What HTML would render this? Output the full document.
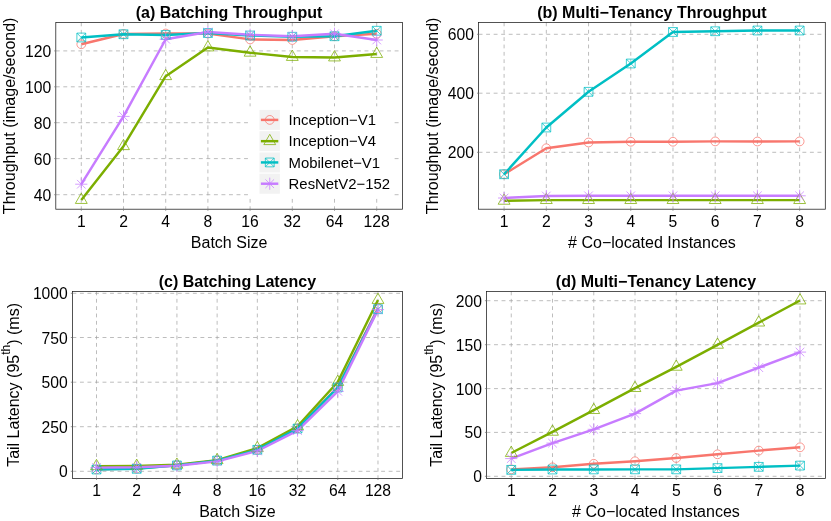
<!DOCTYPE html>
<html><head><meta charset="utf-8"><title>chart</title><style>html,body{margin:0;padding:0;background:#fff}svg{display:block}</style></head><body>
<svg width="831" height="521" viewBox="0 0 831 521" font-family='"Liberation Sans", sans-serif' fill="#000">
<rect width="831" height="521" fill="#fff"/>
<rect x="55.8" y="22.5" width="346.59999999999997" height="186.7" fill="#fff"/>
<path d="M55.8 194.70H402.4 M55.8 158.60H402.4 M55.8 122.70H402.4 M55.8 86.80H402.4 M55.8 50.90H402.4" fill="none" stroke="#a0a0a0" stroke-width="0.7" stroke-dasharray="3.9 3.63"/>
<path d="M81.30 22.5V209.2 M123.50 22.5V209.2 M165.70 22.5V209.2 M207.90 22.5V209.2 M250.10 22.5V209.2 M292.30 22.5V209.2 M334.50 22.5V209.2 M376.70 22.5V209.2" fill="none" stroke="#a0a0a0" stroke-width="0.7" stroke-dasharray="3.8 3.55"/>
<polyline points="81.30,44.25 123.50,34.00 165.70,33.50 207.90,33.50 250.10,39.40 292.30,40.00 334.50,36.25 376.70,33.75" fill="none" stroke="#F8766D" stroke-width="2.45" stroke-linejoin="round"/>
<polyline points="81.30,200.00 123.50,146.20 165.70,76.20 207.90,47.50 250.10,52.75 292.30,57.00 334.50,57.50 376.70,54.00" fill="none" stroke="#7CAE00" stroke-width="2.45" stroke-linejoin="round"/>
<polyline points="81.30,37.50 123.50,34.25 165.70,35.00 207.90,33.00 250.10,35.50 292.30,36.75 334.50,36.25 376.70,30.75" fill="none" stroke="#00BFC4" stroke-width="2.45" stroke-linejoin="round"/>
<polyline points="81.30,184.20 123.50,116.40 165.70,39.25 207.90,32.00 250.10,34.75 292.30,36.25 334.50,33.75 376.70,40.00" fill="none" stroke="#C77CFF" stroke-width="2.45" stroke-linejoin="round"/>
<circle cx="81.30" cy="44.25" r="4.40" fill="none" stroke="#F8766D" stroke-width="0.75"/>
<circle cx="123.50" cy="34.00" r="4.40" fill="none" stroke="#F8766D" stroke-width="0.75"/>
<circle cx="165.70" cy="33.50" r="4.40" fill="none" stroke="#F8766D" stroke-width="0.75"/>
<circle cx="207.90" cy="33.50" r="4.40" fill="none" stroke="#F8766D" stroke-width="0.75"/>
<circle cx="250.10" cy="39.40" r="4.40" fill="none" stroke="#F8766D" stroke-width="0.75"/>
<circle cx="292.30" cy="40.00" r="4.40" fill="none" stroke="#F8766D" stroke-width="0.75"/>
<circle cx="334.50" cy="36.25" r="4.40" fill="none" stroke="#F8766D" stroke-width="0.75"/>
<circle cx="376.70" cy="33.75" r="4.40" fill="none" stroke="#F8766D" stroke-width="0.75"/>
<path d="M81.30 193.15L75.37 203.43L87.23 203.43Z" fill="none" stroke="#7CAE00" stroke-width="0.75"/>
<path d="M123.50 139.35L117.57 149.62L129.43 149.62Z" fill="none" stroke="#7CAE00" stroke-width="0.75"/>
<path d="M165.70 69.35L159.77 79.62L171.63 79.62Z" fill="none" stroke="#7CAE00" stroke-width="0.75"/>
<path d="M207.90 40.65L201.97 50.92L213.83 50.92Z" fill="none" stroke="#7CAE00" stroke-width="0.75"/>
<path d="M250.10 45.90L244.17 56.17L256.03 56.17Z" fill="none" stroke="#7CAE00" stroke-width="0.75"/>
<path d="M292.30 50.15L286.37 60.42L298.23 60.42Z" fill="none" stroke="#7CAE00" stroke-width="0.75"/>
<path d="M334.50 50.65L328.57 60.92L340.43 60.92Z" fill="none" stroke="#7CAE00" stroke-width="0.75"/>
<path d="M376.70 47.15L370.77 57.42L382.63 57.42Z" fill="none" stroke="#7CAE00" stroke-width="0.75"/>
<path d="M76.90 33.10H85.70V41.90H76.90Z M76.90 33.10L85.70 41.90 M76.90 41.90L85.70 33.10" fill="none" stroke="#00BFC4" stroke-width="0.75"/>
<path d="M119.10 29.85H127.90V38.65H119.10Z M119.10 29.85L127.90 38.65 M119.10 38.65L127.90 29.85" fill="none" stroke="#00BFC4" stroke-width="0.75"/>
<path d="M161.30 30.60H170.10V39.40H161.30Z M161.30 30.60L170.10 39.40 M161.30 39.40L170.10 30.60" fill="none" stroke="#00BFC4" stroke-width="0.75"/>
<path d="M203.50 28.60H212.30V37.40H203.50Z M203.50 28.60L212.30 37.40 M203.50 37.40L212.30 28.60" fill="none" stroke="#00BFC4" stroke-width="0.75"/>
<path d="M245.70 31.10H254.50V39.90H245.70Z M245.70 31.10L254.50 39.90 M245.70 39.90L254.50 31.10" fill="none" stroke="#00BFC4" stroke-width="0.75"/>
<path d="M287.90 32.35H296.70V41.15H287.90Z M287.90 32.35L296.70 41.15 M287.90 41.15L296.70 32.35" fill="none" stroke="#00BFC4" stroke-width="0.75"/>
<path d="M330.10 31.85H338.90V40.65H330.10Z M330.10 31.85L338.90 40.65 M330.10 40.65L338.90 31.85" fill="none" stroke="#00BFC4" stroke-width="0.75"/>
<path d="M372.30 26.35H381.10V35.15H372.30Z M372.30 26.35L381.10 35.15 M372.30 35.15L381.10 26.35" fill="none" stroke="#00BFC4" stroke-width="0.75"/>
<path d="M75.20 184.20H87.40 M81.30 178.10V190.30 M77.00 179.90L85.60 188.50 M77.00 188.50L85.60 179.90" fill="none" stroke="#C77CFF" stroke-width="0.75"/>
<path d="M117.40 116.40H129.60 M123.50 110.30V122.50 M119.20 112.10L127.80 120.70 M119.20 120.70L127.80 112.10" fill="none" stroke="#C77CFF" stroke-width="0.75"/>
<path d="M159.60 39.25H171.80 M165.70 33.15V45.35 M161.40 34.95L170.00 43.55 M161.40 43.55L170.00 34.95" fill="none" stroke="#C77CFF" stroke-width="0.75"/>
<path d="M201.80 32.00H214.00 M207.90 25.90V38.10 M203.60 27.70L212.20 36.30 M203.60 36.30L212.20 27.70" fill="none" stroke="#C77CFF" stroke-width="0.75"/>
<path d="M244.00 34.75H256.20 M250.10 28.65V40.85 M245.80 30.45L254.40 39.05 M245.80 39.05L254.40 30.45" fill="none" stroke="#C77CFF" stroke-width="0.75"/>
<path d="M286.20 36.25H298.40 M292.30 30.15V42.35 M288.00 31.95L296.60 40.55 M288.00 40.55L296.60 31.95" fill="none" stroke="#C77CFF" stroke-width="0.75"/>
<path d="M328.40 33.75H340.60 M334.50 27.65V39.85 M330.20 29.45L338.80 38.05 M330.20 38.05L338.80 29.45" fill="none" stroke="#C77CFF" stroke-width="0.75"/>
<path d="M370.60 40.00H382.80 M376.70 33.90V46.10 M372.40 35.70L381.00 44.30 M372.40 44.30L381.00 35.70" fill="none" stroke="#C77CFF" stroke-width="0.75"/>
<rect x="249" y="106.3" width="142.6" height="92" fill="#fff"/>
<rect x="259.5" y="109.90" width="20.4" height="20" fill="#f2f2f2"/>
<path d="M260.9 119.90H278.3" stroke="#F8766D" stroke-width="2.45" fill="none"/>
<circle cx="269.75" cy="119.90" r="4.40" fill="none" stroke="#F8766D" stroke-width="0.75"/>
<text x="288.6" y="125.10" font-size="14.9">Inception−V1</text>
<rect x="259.5" y="131.17" width="20.4" height="20" fill="#f2f2f2"/>
<path d="M260.9 141.17H278.3" stroke="#7CAE00" stroke-width="2.45" fill="none"/>
<path d="M269.75 134.32L263.82 144.60L275.68 144.60Z" fill="none" stroke="#7CAE00" stroke-width="0.75"/>
<text x="288.6" y="146.37" font-size="14.9">Inception−V4</text>
<rect x="259.5" y="152.44" width="20.4" height="20" fill="#f2f2f2"/>
<path d="M260.9 162.44H278.3" stroke="#00BFC4" stroke-width="2.45" fill="none"/>
<path d="M265.35 158.04H274.15V166.84H265.35Z M265.35 158.04L274.15 166.84 M265.35 166.84L274.15 158.04" fill="none" stroke="#00BFC4" stroke-width="0.75"/>
<text x="288.6" y="167.64" font-size="14.9">Mobilenet−V1</text>
<rect x="259.5" y="173.71" width="20.4" height="20" fill="#f2f2f2"/>
<path d="M260.9 183.71H278.3" stroke="#C77CFF" stroke-width="2.45" fill="none"/>
<path d="M263.65 183.71H275.85 M269.75 177.61V189.81 M265.45 179.41L274.05 188.01 M265.45 188.01L274.05 179.41" fill="none" stroke="#C77CFF" stroke-width="0.75"/>
<text x="288.6" y="188.91" font-size="14.9">ResNetV2−152</text>
<rect x="55.8" y="22.5" width="346.59999999999997" height="186.7" fill="none" stroke="#1a1a1a" stroke-width="0.75"/>
<path d="M54.199999999999996 194.70H55.8 M54.199999999999996 158.60H55.8 M54.199999999999996 122.70H55.8 M54.199999999999996 86.80H55.8 M54.199999999999996 50.90H55.8 M81.30 209.2V210.79999999999998 M123.50 209.2V210.79999999999998 M165.70 209.2V210.79999999999998 M207.90 209.2V210.79999999999998 M250.10 209.2V210.79999999999998 M292.30 209.2V210.79999999999998 M334.50 209.2V210.79999999999998 M376.70 209.2V210.79999999999998" fill="none" stroke="#7f7f7f" stroke-width="0.8"/>
<text x="51.20" y="200.70" text-anchor="end" font-size="15.7">40</text>
<text x="51.20" y="164.60" text-anchor="end" font-size="15.7">60</text>
<text x="51.20" y="128.70" text-anchor="end" font-size="15.7">80</text>
<text x="51.20" y="92.80" text-anchor="end" font-size="15.7">100</text>
<text x="51.20" y="56.90" text-anchor="end" font-size="15.7">120</text>
<text x="81.30" y="226.80" text-anchor="middle" font-size="15.7">1</text>
<text x="123.50" y="226.80" text-anchor="middle" font-size="15.7">2</text>
<text x="165.70" y="226.80" text-anchor="middle" font-size="15.7">4</text>
<text x="207.90" y="226.80" text-anchor="middle" font-size="15.7">8</text>
<text x="250.10" y="226.80" text-anchor="middle" font-size="15.7">16</text>
<text x="292.30" y="226.80" text-anchor="middle" font-size="15.7">32</text>
<text x="334.50" y="226.80" text-anchor="middle" font-size="15.7">64</text>
<text x="376.70" y="226.80" text-anchor="middle" font-size="15.7">128</text>
<text x="229.10" y="17.90" text-anchor="middle" font-size="16" font-weight="bold">(a) Batching Throughput</text>
<text x="229.10" y="248.20" text-anchor="middle" font-size="16">Batch Size</text>
<text transform="translate(15 115.85) rotate(-90)" text-anchor="middle" font-size="16">Throughput (image/second)</text>
<rect x="478.6" y="22.5" width="346.69999999999993" height="186.7" fill="#fff"/>
<path d="M478.6 152.30H825.3 M478.6 93.20H825.3 M478.6 34.30H825.3" fill="none" stroke="#a0a0a0" stroke-width="0.7" stroke-dasharray="3.9 3.63"/>
<path d="M504.10 22.5V209.2 M546.32 22.5V209.2 M588.54 22.5V209.2 M630.76 22.5V209.2 M672.98 22.5V209.2 M715.20 22.5V209.2 M757.42 22.5V209.2 M799.64 22.5V209.2" fill="none" stroke="#a0a0a0" stroke-width="0.7" stroke-dasharray="3.8 3.55"/>
<polyline points="504.10,174.25 546.32,148.25 588.54,142.50 630.76,141.75 672.98,141.75 715.20,141.40 757.42,141.50 799.64,141.40" fill="none" stroke="#F8766D" stroke-width="2.45" stroke-linejoin="round"/>
<polyline points="504.10,200.80 546.32,200.10 588.54,200.10 630.76,200.10 672.98,200.10 715.20,200.10 757.42,200.10 799.64,200.10" fill="none" stroke="#7CAE00" stroke-width="2.45" stroke-linejoin="round"/>
<polyline points="504.10,174.25 546.32,127.50 588.54,91.80 630.76,63.50 672.98,32.00 715.20,31.25 757.42,30.50 799.64,30.50" fill="none" stroke="#00BFC4" stroke-width="2.45" stroke-linejoin="round"/>
<polyline points="504.10,198.00 546.32,196.00 588.54,195.80 630.76,195.80 672.98,195.80 715.20,195.80 757.42,195.80 799.64,195.80" fill="none" stroke="#C77CFF" stroke-width="2.45" stroke-linejoin="round"/>
<circle cx="504.10" cy="174.25" r="4.40" fill="none" stroke="#F8766D" stroke-width="0.75"/>
<circle cx="546.32" cy="148.25" r="4.40" fill="none" stroke="#F8766D" stroke-width="0.75"/>
<circle cx="588.54" cy="142.50" r="4.40" fill="none" stroke="#F8766D" stroke-width="0.75"/>
<circle cx="630.76" cy="141.75" r="4.40" fill="none" stroke="#F8766D" stroke-width="0.75"/>
<circle cx="672.98" cy="141.75" r="4.40" fill="none" stroke="#F8766D" stroke-width="0.75"/>
<circle cx="715.20" cy="141.40" r="4.40" fill="none" stroke="#F8766D" stroke-width="0.75"/>
<circle cx="757.42" cy="141.50" r="4.40" fill="none" stroke="#F8766D" stroke-width="0.75"/>
<circle cx="799.64" cy="141.40" r="4.40" fill="none" stroke="#F8766D" stroke-width="0.75"/>
<path d="M504.10 193.95L498.17 204.23L510.03 204.23Z" fill="none" stroke="#7CAE00" stroke-width="0.75"/>
<path d="M546.32 193.25L540.39 203.53L552.25 203.53Z" fill="none" stroke="#7CAE00" stroke-width="0.75"/>
<path d="M588.54 193.25L582.61 203.53L594.47 203.53Z" fill="none" stroke="#7CAE00" stroke-width="0.75"/>
<path d="M630.76 193.25L624.83 203.53L636.69 203.53Z" fill="none" stroke="#7CAE00" stroke-width="0.75"/>
<path d="M672.98 193.25L667.05 203.53L678.91 203.53Z" fill="none" stroke="#7CAE00" stroke-width="0.75"/>
<path d="M715.20 193.25L709.27 203.53L721.13 203.53Z" fill="none" stroke="#7CAE00" stroke-width="0.75"/>
<path d="M757.42 193.25L751.49 203.53L763.35 203.53Z" fill="none" stroke="#7CAE00" stroke-width="0.75"/>
<path d="M799.64 193.25L793.71 203.53L805.57 203.53Z" fill="none" stroke="#7CAE00" stroke-width="0.75"/>
<path d="M499.70 169.85H508.50V178.65H499.70Z M499.70 169.85L508.50 178.65 M499.70 178.65L508.50 169.85" fill="none" stroke="#00BFC4" stroke-width="0.75"/>
<path d="M541.92 123.10H550.72V131.90H541.92Z M541.92 123.10L550.72 131.90 M541.92 131.90L550.72 123.10" fill="none" stroke="#00BFC4" stroke-width="0.75"/>
<path d="M584.14 87.40H592.94V96.20H584.14Z M584.14 87.40L592.94 96.20 M584.14 96.20L592.94 87.40" fill="none" stroke="#00BFC4" stroke-width="0.75"/>
<path d="M626.36 59.10H635.16V67.90H626.36Z M626.36 59.10L635.16 67.90 M626.36 67.90L635.16 59.10" fill="none" stroke="#00BFC4" stroke-width="0.75"/>
<path d="M668.58 27.60H677.38V36.40H668.58Z M668.58 27.60L677.38 36.40 M668.58 36.40L677.38 27.60" fill="none" stroke="#00BFC4" stroke-width="0.75"/>
<path d="M710.80 26.85H719.60V35.65H710.80Z M710.80 26.85L719.60 35.65 M710.80 35.65L719.60 26.85" fill="none" stroke="#00BFC4" stroke-width="0.75"/>
<path d="M753.02 26.10H761.82V34.90H753.02Z M753.02 26.10L761.82 34.90 M753.02 34.90L761.82 26.10" fill="none" stroke="#00BFC4" stroke-width="0.75"/>
<path d="M795.24 26.10H804.04V34.90H795.24Z M795.24 26.10L804.04 34.90 M795.24 34.90L804.04 26.10" fill="none" stroke="#00BFC4" stroke-width="0.75"/>
<path d="M498.00 198.00H510.20 M504.10 191.90V204.10 M499.80 193.70L508.40 202.30 M499.80 202.30L508.40 193.70" fill="none" stroke="#C77CFF" stroke-width="0.75"/>
<path d="M540.22 196.00H552.42 M546.32 189.90V202.10 M542.02 191.70L550.62 200.30 M542.02 200.30L550.62 191.70" fill="none" stroke="#C77CFF" stroke-width="0.75"/>
<path d="M582.44 195.80H594.64 M588.54 189.70V201.90 M584.24 191.50L592.84 200.10 M584.24 200.10L592.84 191.50" fill="none" stroke="#C77CFF" stroke-width="0.75"/>
<path d="M624.66 195.80H636.86 M630.76 189.70V201.90 M626.46 191.50L635.06 200.10 M626.46 200.10L635.06 191.50" fill="none" stroke="#C77CFF" stroke-width="0.75"/>
<path d="M666.88 195.80H679.08 M672.98 189.70V201.90 M668.68 191.50L677.28 200.10 M668.68 200.10L677.28 191.50" fill="none" stroke="#C77CFF" stroke-width="0.75"/>
<path d="M709.10 195.80H721.30 M715.20 189.70V201.90 M710.90 191.50L719.50 200.10 M710.90 200.10L719.50 191.50" fill="none" stroke="#C77CFF" stroke-width="0.75"/>
<path d="M751.32 195.80H763.52 M757.42 189.70V201.90 M753.12 191.50L761.72 200.10 M753.12 200.10L761.72 191.50" fill="none" stroke="#C77CFF" stroke-width="0.75"/>
<path d="M793.54 195.80H805.74 M799.64 189.70V201.90 M795.34 191.50L803.94 200.10 M795.34 200.10L803.94 191.50" fill="none" stroke="#C77CFF" stroke-width="0.75"/>
<rect x="478.6" y="22.5" width="346.69999999999993" height="186.7" fill="none" stroke="#1a1a1a" stroke-width="0.75"/>
<path d="M477.0 152.30H478.6 M477.0 93.20H478.6 M477.0 34.30H478.6 M504.10 209.2V210.79999999999998 M546.32 209.2V210.79999999999998 M588.54 209.2V210.79999999999998 M630.76 209.2V210.79999999999998 M672.98 209.2V210.79999999999998 M715.20 209.2V210.79999999999998 M757.42 209.2V210.79999999999998 M799.64 209.2V210.79999999999998" fill="none" stroke="#7f7f7f" stroke-width="0.8"/>
<text x="474.00" y="158.30" text-anchor="end" font-size="15.7">200</text>
<text x="474.00" y="99.20" text-anchor="end" font-size="15.7">400</text>
<text x="474.00" y="40.30" text-anchor="end" font-size="15.7">600</text>
<text x="504.10" y="226.80" text-anchor="middle" font-size="15.7">1</text>
<text x="546.32" y="226.80" text-anchor="middle" font-size="15.7">2</text>
<text x="588.54" y="226.80" text-anchor="middle" font-size="15.7">3</text>
<text x="630.76" y="226.80" text-anchor="middle" font-size="15.7">4</text>
<text x="672.98" y="226.80" text-anchor="middle" font-size="15.7">5</text>
<text x="715.20" y="226.80" text-anchor="middle" font-size="15.7">6</text>
<text x="757.42" y="226.80" text-anchor="middle" font-size="15.7">7</text>
<text x="799.64" y="226.80" text-anchor="middle" font-size="15.7">8</text>
<text x="651.95" y="17.90" text-anchor="middle" font-size="16" font-weight="bold">(b) Multi−Tenancy Throughput</text>
<text x="651.95" y="248.20" text-anchor="middle" font-size="16"># Co−located Instances</text>
<text transform="translate(437.6 115.85) rotate(-90)" text-anchor="middle" font-size="16">Throughput (image/second)</text>
<rect x="72.4" y="291.5" width="330.0" height="186.89999999999998" fill="#fff"/>
<path d="M72.4 471.30H402.4 M72.4 426.70H402.4 M72.4 382.20H402.4 M72.4 337.50H402.4 M72.4 293.30H402.4" fill="none" stroke="#a0a0a0" stroke-width="0.7" stroke-dasharray="3.9 3.63"/>
<path d="M96.50 291.5V478.4 M136.71 291.5V478.4 M176.92 291.5V478.4 M217.13 291.5V478.4 M257.34 291.5V478.4 M297.55 291.5V478.4 M337.76 291.5V478.4 M377.97 291.5V478.4" fill="none" stroke="#a0a0a0" stroke-width="0.7" stroke-dasharray="3.8 3.55"/>
<polyline points="96.50,469.40 136.71,468.60 176.92,465.20 217.13,460.60 257.34,449.80 297.55,428.30 337.76,387.00 377.97,308.20" fill="none" stroke="#F8766D" stroke-width="2.45" stroke-linejoin="round"/>
<polyline points="96.50,466.20 136.71,465.90 176.92,464.80 217.13,460.20 257.34,448.20 297.55,426.30 337.76,382.00 377.97,300.00" fill="none" stroke="#7CAE00" stroke-width="2.45" stroke-linejoin="round"/>
<polyline points="96.50,469.50 136.71,468.80 176.92,465.40 217.13,460.60 257.34,449.80 297.55,428.60 337.76,387.50 377.97,309.20" fill="none" stroke="#00BFC4" stroke-width="2.45" stroke-linejoin="round"/>
<polyline points="96.50,467.60 136.71,467.30 176.92,465.70 217.13,461.40 257.34,451.00 297.55,430.60 337.76,391.30 377.97,309.60" fill="none" stroke="#C77CFF" stroke-width="2.45" stroke-linejoin="round"/>
<circle cx="96.50" cy="469.40" r="4.40" fill="none" stroke="#F8766D" stroke-width="0.75"/>
<circle cx="136.71" cy="468.60" r="4.40" fill="none" stroke="#F8766D" stroke-width="0.75"/>
<circle cx="176.92" cy="465.20" r="4.40" fill="none" stroke="#F8766D" stroke-width="0.75"/>
<circle cx="217.13" cy="460.60" r="4.40" fill="none" stroke="#F8766D" stroke-width="0.75"/>
<circle cx="257.34" cy="449.80" r="4.40" fill="none" stroke="#F8766D" stroke-width="0.75"/>
<circle cx="297.55" cy="428.30" r="4.40" fill="none" stroke="#F8766D" stroke-width="0.75"/>
<circle cx="337.76" cy="387.00" r="4.40" fill="none" stroke="#F8766D" stroke-width="0.75"/>
<circle cx="377.97" cy="308.20" r="4.40" fill="none" stroke="#F8766D" stroke-width="0.75"/>
<path d="M96.50 459.35L90.57 469.62L102.43 469.62Z" fill="none" stroke="#7CAE00" stroke-width="0.75"/>
<path d="M136.71 459.05L130.78 469.32L142.64 469.32Z" fill="none" stroke="#7CAE00" stroke-width="0.75"/>
<path d="M176.92 457.95L170.99 468.23L182.85 468.23Z" fill="none" stroke="#7CAE00" stroke-width="0.75"/>
<path d="M217.13 453.35L211.20 463.62L223.06 463.62Z" fill="none" stroke="#7CAE00" stroke-width="0.75"/>
<path d="M257.34 441.35L251.41 451.62L263.27 451.62Z" fill="none" stroke="#7CAE00" stroke-width="0.75"/>
<path d="M297.55 419.45L291.62 429.73L303.48 429.73Z" fill="none" stroke="#7CAE00" stroke-width="0.75"/>
<path d="M337.76 375.15L331.83 385.43L343.69 385.43Z" fill="none" stroke="#7CAE00" stroke-width="0.75"/>
<path d="M377.97 293.15L372.04 303.43L383.90 303.43Z" fill="none" stroke="#7CAE00" stroke-width="0.75"/>
<path d="M92.10 465.10H100.90V473.90H92.10Z M92.10 465.10L100.90 473.90 M92.10 473.90L100.90 465.10" fill="none" stroke="#00BFC4" stroke-width="0.75"/>
<path d="M132.31 464.40H141.11V473.20H132.31Z M132.31 464.40L141.11 473.20 M132.31 473.20L141.11 464.40" fill="none" stroke="#00BFC4" stroke-width="0.75"/>
<path d="M172.52 461.00H181.32V469.80H172.52Z M172.52 461.00L181.32 469.80 M172.52 469.80L181.32 461.00" fill="none" stroke="#00BFC4" stroke-width="0.75"/>
<path d="M212.73 456.20H221.53V465.00H212.73Z M212.73 456.20L221.53 465.00 M212.73 465.00L221.53 456.20" fill="none" stroke="#00BFC4" stroke-width="0.75"/>
<path d="M252.94 445.40H261.74V454.20H252.94Z M252.94 445.40L261.74 454.20 M252.94 454.20L261.74 445.40" fill="none" stroke="#00BFC4" stroke-width="0.75"/>
<path d="M293.15 424.20H301.95V433.00H293.15Z M293.15 424.20L301.95 433.00 M293.15 433.00L301.95 424.20" fill="none" stroke="#00BFC4" stroke-width="0.75"/>
<path d="M333.36 383.10H342.16V391.90H333.36Z M333.36 383.10L342.16 391.90 M333.36 391.90L342.16 383.10" fill="none" stroke="#00BFC4" stroke-width="0.75"/>
<path d="M373.57 304.80H382.37V313.60H373.57Z M373.57 304.80L382.37 313.60 M373.57 313.60L382.37 304.80" fill="none" stroke="#00BFC4" stroke-width="0.75"/>
<path d="M90.40 467.60H102.60 M96.50 461.50V473.70 M92.20 463.30L100.80 471.90 M92.20 471.90L100.80 463.30" fill="none" stroke="#C77CFF" stroke-width="0.75"/>
<path d="M130.61 467.30H142.81 M136.71 461.20V473.40 M132.41 463.00L141.01 471.60 M132.41 471.60L141.01 463.00" fill="none" stroke="#C77CFF" stroke-width="0.75"/>
<path d="M170.82 465.70H183.02 M176.92 459.60V471.80 M172.62 461.40L181.22 470.00 M172.62 470.00L181.22 461.40" fill="none" stroke="#C77CFF" stroke-width="0.75"/>
<path d="M211.03 461.40H223.23 M217.13 455.30V467.50 M212.83 457.10L221.43 465.70 M212.83 465.70L221.43 457.10" fill="none" stroke="#C77CFF" stroke-width="0.75"/>
<path d="M251.24 451.00H263.44 M257.34 444.90V457.10 M253.04 446.70L261.64 455.30 M253.04 455.30L261.64 446.70" fill="none" stroke="#C77CFF" stroke-width="0.75"/>
<path d="M291.45 430.60H303.65 M297.55 424.50V436.70 M293.25 426.30L301.85 434.90 M293.25 434.90L301.85 426.30" fill="none" stroke="#C77CFF" stroke-width="0.75"/>
<path d="M331.66 391.30H343.86 M337.76 385.20V397.40 M333.46 387.00L342.06 395.60 M333.46 395.60L342.06 387.00" fill="none" stroke="#C77CFF" stroke-width="0.75"/>
<path d="M371.87 309.60H384.07 M377.97 303.50V315.70 M373.67 305.30L382.27 313.90 M373.67 313.90L382.27 305.30" fill="none" stroke="#C77CFF" stroke-width="0.75"/>
<rect x="72.4" y="291.5" width="330.0" height="186.89999999999998" fill="none" stroke="#1a1a1a" stroke-width="0.75"/>
<path d="M70.80000000000001 471.30H72.4 M70.80000000000001 426.70H72.4 M70.80000000000001 382.20H72.4 M70.80000000000001 337.50H72.4 M70.80000000000001 293.30H72.4 M96.50 478.4V480.0 M136.71 478.4V480.0 M176.92 478.4V480.0 M217.13 478.4V480.0 M257.34 478.4V480.0 M297.55 478.4V480.0 M337.76 478.4V480.0 M377.97 478.4V480.0" fill="none" stroke="#7f7f7f" stroke-width="0.8"/>
<text x="67.80" y="477.30" text-anchor="end" font-size="15.7">0</text>
<text x="67.80" y="432.70" text-anchor="end" font-size="15.7">250</text>
<text x="67.80" y="388.20" text-anchor="end" font-size="15.7">500</text>
<text x="67.80" y="343.50" text-anchor="end" font-size="15.7">750</text>
<text x="67.80" y="299.30" text-anchor="end" font-size="15.7">1000</text>
<text x="96.50" y="496.00" text-anchor="middle" font-size="15.7">1</text>
<text x="136.71" y="496.00" text-anchor="middle" font-size="15.7">2</text>
<text x="176.92" y="496.00" text-anchor="middle" font-size="15.7">4</text>
<text x="217.13" y="496.00" text-anchor="middle" font-size="15.7">8</text>
<text x="257.34" y="496.00" text-anchor="middle" font-size="15.7">16</text>
<text x="297.55" y="496.00" text-anchor="middle" font-size="15.7">32</text>
<text x="337.76" y="496.00" text-anchor="middle" font-size="15.7">64</text>
<text x="377.97" y="496.00" text-anchor="middle" font-size="15.7">128</text>
<text x="237.40" y="286.90" text-anchor="middle" font-size="16" font-weight="bold">(c) Batching Latency</text>
<text x="237.40" y="517.40" text-anchor="middle" font-size="16">Batch Size</text>
<text transform="translate(18.8 384.95) rotate(-90)" text-anchor="middle" font-size="16">Tail Latency (95<tspan font-size="12" dy="-8.6">th</tspan><tspan dy="8.6">) (ms)</tspan></text>
<rect x="486.5" y="291.5" width="338.9" height="186.89999999999998" fill="#fff"/>
<path d="M486.5 476.30H825.4 M486.5 432.40H825.4 M486.5 388.60H825.4 M486.5 344.70H825.4 M486.5 300.70H825.4" fill="none" stroke="#a0a0a0" stroke-width="0.7" stroke-dasharray="3.9 3.63"/>
<path d="M511.25 291.5V478.4 M552.50 291.5V478.4 M593.75 291.5V478.4 M635.00 291.5V478.4 M676.25 291.5V478.4 M717.50 291.5V478.4 M758.75 291.5V478.4 M800.00 291.5V478.4" fill="none" stroke="#a0a0a0" stroke-width="0.7" stroke-dasharray="3.8 3.55"/>
<polyline points="511.25,469.40 552.50,467.30 593.75,463.80 635.00,461.30 676.25,458.00 717.50,454.30 758.75,450.60 800.00,447.30" fill="none" stroke="#F8766D" stroke-width="2.45" stroke-linejoin="round"/>
<polyline points="511.25,453.00 552.50,431.80 593.75,410.10 635.00,388.10 676.25,366.80 717.50,344.80 758.75,322.60 800.00,300.50" fill="none" stroke="#7CAE00" stroke-width="2.45" stroke-linejoin="round"/>
<polyline points="511.25,469.85 552.50,469.50 593.75,469.40 635.00,469.35 676.25,469.35 717.50,468.10 758.75,466.85 800.00,465.60" fill="none" stroke="#00BFC4" stroke-width="2.45" stroke-linejoin="round"/>
<polyline points="511.25,458.60 552.50,443.10 593.75,429.30 635.00,413.60 676.25,390.60 717.50,383.10 758.75,367.60 800.00,352.10" fill="none" stroke="#C77CFF" stroke-width="2.45" stroke-linejoin="round"/>
<circle cx="511.25" cy="469.40" r="4.40" fill="none" stroke="#F8766D" stroke-width="0.75"/>
<circle cx="552.50" cy="467.30" r="4.40" fill="none" stroke="#F8766D" stroke-width="0.75"/>
<circle cx="593.75" cy="463.80" r="4.40" fill="none" stroke="#F8766D" stroke-width="0.75"/>
<circle cx="635.00" cy="461.30" r="4.40" fill="none" stroke="#F8766D" stroke-width="0.75"/>
<circle cx="676.25" cy="458.00" r="4.40" fill="none" stroke="#F8766D" stroke-width="0.75"/>
<circle cx="717.50" cy="454.30" r="4.40" fill="none" stroke="#F8766D" stroke-width="0.75"/>
<circle cx="758.75" cy="450.60" r="4.40" fill="none" stroke="#F8766D" stroke-width="0.75"/>
<circle cx="800.00" cy="447.30" r="4.40" fill="none" stroke="#F8766D" stroke-width="0.75"/>
<path d="M511.25 446.15L505.32 456.43L517.18 456.43Z" fill="none" stroke="#7CAE00" stroke-width="0.75"/>
<path d="M552.50 424.95L546.57 435.23L558.43 435.23Z" fill="none" stroke="#7CAE00" stroke-width="0.75"/>
<path d="M593.75 403.25L587.82 413.53L599.68 413.53Z" fill="none" stroke="#7CAE00" stroke-width="0.75"/>
<path d="M635.00 381.25L629.07 391.53L640.93 391.53Z" fill="none" stroke="#7CAE00" stroke-width="0.75"/>
<path d="M676.25 359.95L670.32 370.23L682.18 370.23Z" fill="none" stroke="#7CAE00" stroke-width="0.75"/>
<path d="M717.50 337.95L711.57 348.23L723.43 348.23Z" fill="none" stroke="#7CAE00" stroke-width="0.75"/>
<path d="M758.75 315.75L752.82 326.03L764.68 326.03Z" fill="none" stroke="#7CAE00" stroke-width="0.75"/>
<path d="M800.00 293.65L794.07 303.93L805.93 303.93Z" fill="none" stroke="#7CAE00" stroke-width="0.75"/>
<path d="M506.85 465.45H515.65V474.25H506.85Z M506.85 465.45L515.65 474.25 M506.85 474.25L515.65 465.45" fill="none" stroke="#00BFC4" stroke-width="0.75"/>
<path d="M548.10 465.10H556.90V473.90H548.10Z M548.10 465.10L556.90 473.90 M548.10 473.90L556.90 465.10" fill="none" stroke="#00BFC4" stroke-width="0.75"/>
<path d="M589.35 465.00H598.15V473.80H589.35Z M589.35 465.00L598.15 473.80 M589.35 473.80L598.15 465.00" fill="none" stroke="#00BFC4" stroke-width="0.75"/>
<path d="M630.60 464.95H639.40V473.75H630.60Z M630.60 464.95L639.40 473.75 M630.60 473.75L639.40 464.95" fill="none" stroke="#00BFC4" stroke-width="0.75"/>
<path d="M671.85 464.95H680.65V473.75H671.85Z M671.85 464.95L680.65 473.75 M671.85 473.75L680.65 464.95" fill="none" stroke="#00BFC4" stroke-width="0.75"/>
<path d="M713.10 463.70H721.90V472.50H713.10Z M713.10 463.70L721.90 472.50 M713.10 472.50L721.90 463.70" fill="none" stroke="#00BFC4" stroke-width="0.75"/>
<path d="M754.35 462.45H763.15V471.25H754.35Z M754.35 462.45L763.15 471.25 M754.35 471.25L763.15 462.45" fill="none" stroke="#00BFC4" stroke-width="0.75"/>
<path d="M795.60 461.20H804.40V470.00H795.60Z M795.60 461.20L804.40 470.00 M795.60 470.00L804.40 461.20" fill="none" stroke="#00BFC4" stroke-width="0.75"/>
<path d="M505.15 458.60H517.35 M511.25 452.50V464.70 M506.95 454.30L515.55 462.90 M506.95 462.90L515.55 454.30" fill="none" stroke="#C77CFF" stroke-width="0.75"/>
<path d="M546.40 443.10H558.60 M552.50 437.00V449.20 M548.20 438.80L556.80 447.40 M548.20 447.40L556.80 438.80" fill="none" stroke="#C77CFF" stroke-width="0.75"/>
<path d="M587.65 429.30H599.85 M593.75 423.20V435.40 M589.45 425.00L598.05 433.60 M589.45 433.60L598.05 425.00" fill="none" stroke="#C77CFF" stroke-width="0.75"/>
<path d="M628.90 413.60H641.10 M635.00 407.50V419.70 M630.70 409.30L639.30 417.90 M630.70 417.90L639.30 409.30" fill="none" stroke="#C77CFF" stroke-width="0.75"/>
<path d="M670.15 390.60H682.35 M676.25 384.50V396.70 M671.95 386.30L680.55 394.90 M671.95 394.90L680.55 386.30" fill="none" stroke="#C77CFF" stroke-width="0.75"/>
<path d="M711.40 383.10H723.60 M717.50 377.00V389.20 M713.20 378.80L721.80 387.40 M713.20 387.40L721.80 378.80" fill="none" stroke="#C77CFF" stroke-width="0.75"/>
<path d="M752.65 367.60H764.85 M758.75 361.50V373.70 M754.45 363.30L763.05 371.90 M754.45 371.90L763.05 363.30" fill="none" stroke="#C77CFF" stroke-width="0.75"/>
<path d="M793.90 352.10H806.10 M800.00 346.00V358.20 M795.70 347.80L804.30 356.40 M795.70 356.40L804.30 347.80" fill="none" stroke="#C77CFF" stroke-width="0.75"/>
<rect x="486.5" y="291.5" width="338.9" height="186.89999999999998" fill="none" stroke="#1a1a1a" stroke-width="0.75"/>
<path d="M484.9 476.30H486.5 M484.9 432.40H486.5 M484.9 388.60H486.5 M484.9 344.70H486.5 M484.9 300.70H486.5 M511.25 478.4V480.0 M552.50 478.4V480.0 M593.75 478.4V480.0 M635.00 478.4V480.0 M676.25 478.4V480.0 M717.50 478.4V480.0 M758.75 478.4V480.0 M800.00 478.4V480.0" fill="none" stroke="#7f7f7f" stroke-width="0.8"/>
<text x="481.90" y="482.30" text-anchor="end" font-size="15.7">0</text>
<text x="481.90" y="438.40" text-anchor="end" font-size="15.7">50</text>
<text x="481.90" y="394.60" text-anchor="end" font-size="15.7">100</text>
<text x="481.90" y="350.70" text-anchor="end" font-size="15.7">150</text>
<text x="481.90" y="306.70" text-anchor="end" font-size="15.7">200</text>
<text x="511.25" y="496.00" text-anchor="middle" font-size="15.7">1</text>
<text x="552.50" y="496.00" text-anchor="middle" font-size="15.7">2</text>
<text x="593.75" y="496.00" text-anchor="middle" font-size="15.7">3</text>
<text x="635.00" y="496.00" text-anchor="middle" font-size="15.7">4</text>
<text x="676.25" y="496.00" text-anchor="middle" font-size="15.7">5</text>
<text x="717.50" y="496.00" text-anchor="middle" font-size="15.7">6</text>
<text x="758.75" y="496.00" text-anchor="middle" font-size="15.7">7</text>
<text x="800.00" y="496.00" text-anchor="middle" font-size="15.7">8</text>
<text x="655.95" y="286.90" text-anchor="middle" font-size="16" font-weight="bold">(d) Multi−Tenancy Latency</text>
<text x="655.95" y="517.40" text-anchor="middle" font-size="16"># Co−located Instances</text>
<text transform="translate(441.9 384.95) rotate(-90)" text-anchor="middle" font-size="16">Tail Latency (95<tspan font-size="12" dy="-8.6">th</tspan><tspan dy="8.6">) (ms)</tspan></text>
</svg>
</body></html>
